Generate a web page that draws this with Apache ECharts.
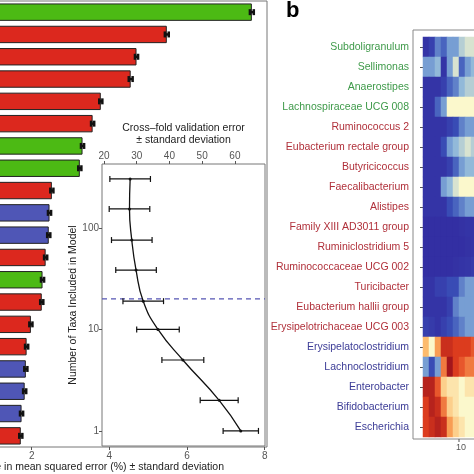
<!DOCTYPE html>
<html>
<head>
<meta charset="utf-8">
<script src="https://cdn.jsdelivr.net/npm/echarts@6/dist/echarts.min.js"></script>
<style>
  html, body { margin: 0; padding: 0; background: #fff; }
  #chart { width: 474px; height: 474px; }
</style>
</head>
<body>
<div id="chart"></div>
<script>
// panel a: importance bars (top to bottom)
var barValues = [7.67, 5.48, 4.70, 4.55, 3.78, 3.57, 3.31, 3.24, 2.52, 2.46, 2.44, 2.36, 2.28, 2.26, 1.98, 1.87, 1.85, 1.82, 1.74, 1.72];
var barErrors = [0.05, 0.05, 0.04, 0.05, 0.04, 0.04, 0.04, 0.04, 0.04, 0.04, 0.04, 0.04, 0.04, 0.04, 0.04, 0.04, 0.04, 0.04, 0.04, 0.04];
var barGroups = ['g', 'r', 'r', 'r', 'r', 'r', 'g', 'g', 'r', 'b', 'b', 'r', 'g', 'r', 'r', 'r', 'b', 'b', 'b', 'r'];

// inset: cross-fold validation error vs number of taxa
var cvTaxa = [304, 154, 76, 38.5, 19, 10, 5, 2, 1];
var cvError = [28.0, 27.8, 28.5, 29.8, 32.0, 36.5, 44.1, 55.2, 61.8];
var cvSd = [6.2, 6.2, 6.2, 6.2, 6.2, 6.5, 6.4, 5.8, 5.4];
var cvCutoff = 20;
var cvRange = [19.4, 69.2];

// panel b: heatmap
var taxa = ['Subdoligranulum', 'Sellimonas', 'Anaerostipes', 'Lachnospiraceae UCG 008', 'Ruminococcus 2',
  'Eubacterium rectale group', 'Butyricicoccus', 'Faecalibacterium', 'Alistipes', 'Family XIII AD3011 group',
  'Ruminiclostridium 5', 'Ruminococcaceae UCG 002', 'Turicibacter', 'Eubacterium hallii group',
  'Erysipelotrichaceae UCG 003', 'Erysipelatoclostridium', 'Lachnoclostridium', 'Enterobacter',
  'Bifidobacterium', 'Escherichia'];
var taxaGroups = ['g', 'g', 'g', 'g', 'r', 'r', 'r', 'r', 'r', 'r', 'r', 'r', 'r', 'r', 'r', 'b', 'b', 'b', 'b', 'b'];
var heatCols = ['c1', 'c2', 'c3', 'c4', 'c5', 'c6', 'c7', 'c8', 'c9'];
var heatValues = [
  [0.05, 0.10, 0.25, 0.20, 0.30, 0.30, 0.40, 0.45, 0.45],
  [0.30, 0.30, 0.35, 0.05, 0.30, 0.45, 0.20, 0.30, 0.35],
  [0.05, 0.05, 0.05, 0.10, 0.20, 0.25, 0.35, 0.40, 0.40],
  [0.05, 0.05, 0.20, 0.30, 0.50, 0.50, 0.50, 0.50, 0.50],
  [0.05, 0.05, 0.05, 0.05, 0.10, 0.15, 0.25, 0.30, 0.30],
  [0.05, 0.05, 0.05, 0.15, 0.30, 0.35, 0.40, 0.45, 0.40],
  [0.05, 0.05, 0.05, 0.05, 0.10, 0.20, 0.30, 0.35, 0.35],
  [0.05, 0.05, 0.05, 0.30, 0.35, 0.45, 0.50, 0.50, 0.50],
  [0.05, 0.05, 0.05, 0.05, 0.15, 0.20, 0.25, 0.30, 0.30],
  [0.03, 0.03, 0.03, 0.03, 0.03, 0.03, 0.04, 0.05, 0.05],
  [0.03, 0.03, 0.03, 0.03, 0.03, 0.03, 0.03, 0.04, 0.05],
  [0.03, 0.03, 0.03, 0.03, 0.03, 0.04, 0.05, 0.06, 0.08],
  [0.05, 0.05, 0.10, 0.10, 0.15, 0.15, 0.25, 0.30, 0.30],
  [0.05, 0.05, 0.05, 0.05, 0.10, 0.25, 0.30, 0.30, 0.30],
  [0.10, 0.08, 0.05, 0.10, 0.15, 0.20, 0.25, 0.30, 0.30],
  [0.65, 0.50, 0.70, 0.90, 0.90, 0.85, 0.85, 0.85, 0.80],
  [0.30, 0.15, 0.30, 0.75, 1.00, 0.85, 0.80, 0.75, 0.75],
  [0.95, 0.95, 0.80, 0.60, 0.55, 0.55, 0.50, 0.55, 0.55],
  [0.85, 0.95, 0.90, 0.75, 0.60, 0.55, 0.50, 0.50, 0.50],
  [0.85, 0.90, 0.95, 0.90, 0.70, 0.60, 0.55, 0.50, 0.50]
];

var barFill = { g: '#4cba14', r: '#dc281e', b: '#4f56b6' };
var labelColor = { g: '#3f9a4a', r: '#b0303a', b: '#3c3c96' };
var FONT = 'Liberation Sans, Arial, sans-serif';

var barCats = barValues.map(function (v, i) { return 'b' + i; });
var barData = barValues.map(function (v, i) {
  return { value: v, itemStyle: { color: barFill[barGroups[i]] } };
});
var barErrData = barValues.map(function (v, i) { return [v - barErrors[i], v + barErrors[i], i]; });
var cvLine = cvTaxa.map(function (t, i) { return [cvError[i], t]; });
var cvErr = cvTaxa.map(function (t, i) { return [cvError[i] - cvSd[i], cvError[i] + cvSd[i], t]; });
var heatData = [];
heatValues.forEach(function (row, r) {
  row.forEach(function (v, c) { heatData.push([c, r, v]); });
});

function hErrorBar(capHalf, lw) {
  return function (params, api) {
    var a = api.coord([api.value(0), api.value(2)]);
    var b = api.coord([api.value(1), api.value(2)]);
    var st = { stroke: '#111', lineWidth: lw };
    return { type: 'group', children: [
      { type: 'line', shape: { x1: a[0], y1: a[1], x2: b[0], y2: b[1] }, style: st },
      { type: 'line', shape: { x1: a[0], y1: a[1] - capHalf, x2: a[0], y2: a[1] + capHalf }, style: st },
      { type: 'line', shape: { x1: b[0], y1: b[1] - capHalf, x2: b[0], y2: b[1] + capHalf }, style: st }
    ] };
  };
}

var chart = echarts.init(document.getElementById('chart'));
chart.setOption({
  animation: false,
  textStyle: { fontFamily: FONT },
  grid: [
    { left: -46, top: 1, width: 313, height: 446, show: true, borderColor: '#777', borderWidth: 1,
      outerBoundsMode: 'none', containLabel: false },
    { left: 102, top: 164, width: 163, height: 282, show: true, borderColor: '#777', borderWidth: 1,
      backgroundColor: '#fff', outerBoundsMode: 'none', containLabel: false },
    { left: 423, top: 37, width: 54, height: 400, outerBoundsMode: 'none', containLabel: false }
  ],
  xAxis: [
    { gridIndex: 0, type: 'value', min: 0, max: 8.06, interval: 2,
      splitLine: { show: false }, axisLine: { show: false },
      axisTick: { show: true, length: 3, lineStyle: { color: '#555' } },
      axisLabel: { color: '#555', fontSize: 10, margin: 4, showMaxLabel: false } },
    { gridIndex: 1, type: 'value', position: 'top', min: cvRange[0], max: cvRange[1],
      splitLine: { show: false }, axisLine: { show: false },
      axisTick: { show: true, length: 3, customValues: [20, 30, 40, 50, 60], lineStyle: { color: '#555' } },
      axisLabel: { color: '#555', fontSize: 10, margin: 3, customValues: [20, 30, 40, 50, 60] },
      name: 'Cross\u2013fold validation error\n\u00b1 standard deviation', nameLocation: 'middle', nameGap: 11,
      nameTextStyle: { color: '#222', fontSize: 10.5, lineHeight: 12 } },
    { gridIndex: 2, type: 'category', data: heatCols, show: false }
  ],
  yAxis: [
    { gridIndex: 0, type: 'category', data: barCats, inverse: true, show: false },
    { gridIndex: 1, type: 'log', logBase: 10, min: 0.71, max: 427,
      splitLine: { show: false }, axisLine: { show: false },
      axisTick: { show: true, length: 3, customValues: [1, 10, 100], lineStyle: { color: '#555' } },
      axisLabel: { color: '#555', fontSize: 10, margin: 3, customValues: [1, 10, 100] },
      name: 'Number of Taxa Included in Model', nameLocation: 'middle', nameGap: 17,
      nameTextStyle: { color: '#222', fontSize: 10.5 } },
    { gridIndex: 2, type: 'category', data: taxa, inverse: true,
      axisLine: { show: false },
      axisTick: { show: true, length: 3, alignWithLabel: true, lineStyle: { color: '#555' } },
      axisLabel: { fontSize: 10.5, margin: 14,
        formatter: function (v, i) { return '{' + taxaGroups[i] + '|' + v + '}'; },
        rich: { g: { color: labelColor.g, fontSize: 10.5 }, r: { color: labelColor.r, fontSize: 10.5 }, b: { color: labelColor.b, fontSize: 10.5 } } } }
  ],
  visualMap: { show: false, min: 0, max: 1, seriesIndex: 5, dimension: 2,
    inRange: { color: ['#32289e', '#3a50b8', '#86b2da', '#fbf8cc', '#fdb462', '#e2401e', '#a3161c'] } },
  graphic: [
    { type: 'text', left: 286, top: 0, style: { text: 'b', font: 'bold 22px ' + FONT, fill: '#000' } },
    { type: 'rect', shape: { x: 413, y: 30, width: 80, height: 409 }, style: { fill: 'none', stroke: '#888', lineWidth: 1 } },
    { type: 'text', x: 456, y: 443, style: { text: '10', font: '9px ' + FONT, fill: '#555' } },
    { type: 'line', shape: { x1: 459, y1: 439, x2: 459, y2: 442 }, style: { stroke: '#555' } },
    { type: 'text', x: 224, y: 462, style: { text: 'Increase in mean squared error (%) \u00b1 standard deviation', font: '10.5px ' + FONT, fill: '#222', textAlign: 'right' } }
  ],
  series: [
    { type: 'bar', xAxisIndex: 0, yAxisIndex: 0, data: barData, barWidth: '78%',
      itemStyle: { borderColor: '#222', borderWidth: 1 } },
    { type: 'custom', xAxisIndex: 0, yAxisIndex: 0, data: barErrData, renderItem: hErrorBar(3, 2.5), z: 5 },
    { type: 'line', xAxisIndex: 1, yAxisIndex: 1, data: [[cvRange[0], cvCutoff], [cvRange[1], cvCutoff]],
      symbol: 'none', lineStyle: { color: '#5656b4', type: [5, 4], width: 1.2 }, z: 3 },
    { type: 'line', xAxisIndex: 1, yAxisIndex: 1, data: cvLine, smooth: true, symbol: 'circle', symbolSize: 3,
      lineStyle: { color: '#111', width: 1.3 }, itemStyle: { color: '#111' }, z: 4 },
    { type: 'custom', xAxisIndex: 1, yAxisIndex: 1, data: cvErr, renderItem: hErrorBar(3, 1.2), z: 5 },
    { type: 'heatmap', xAxisIndex: 2, yAxisIndex: 2, data: heatData }
  ]
});
</script>
</body>
</html>
